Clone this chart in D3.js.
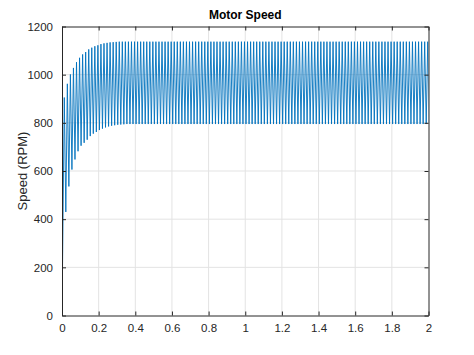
<!DOCTYPE html>
<html>
<head>
<meta charset="utf-8">
<script src="https://cdn.jsdelivr.net/npm/d3@7"></script>
<style>
  body { margin: 0; background: #fff; }
  svg { display: block; }
  text { font-family: Arial, "Liberation Sans", Helvetica, sans-serif; }
</style>
</head>
<body>
<svg id="chart" width="474" height="355"></svg>
<script>
// ---- data ----
const titleText = "Motor Speed";
const yLabelText = "Speed (RPM)";
const xTicks = [0, 0.2, 0.4, 0.6, 0.8, 1, 1.2, 1.4, 1.6, 1.8, 2];
const yTicks = [0, 200, 400, 600, 800, 1000, 1200];
const xDomain = [0, 2];
const yDomain = [0, 1200];
const startValue = 0;
// peak speed of each oscillation cycle (RPM)
const peakValues = [
  905, 962, 1001, 1028, 1052, 1070, 1084, 1094, 1105, 1112,
  1118, 1122, 1127, 1130, 1132, 1134, 1135, 1136, 1137, 1137,
  1137, 1137, 1137, 1137, 1137, 1137, 1137, 1137, 1137, 1137,
  1137, 1137, 1137, 1137, 1137, 1137, 1137, 1137, 1137, 1137,
  1137, 1137, 1137, 1137, 1137, 1137, 1137, 1137, 1137, 1137,
  1137, 1137, 1137, 1137, 1137, 1137, 1137, 1137, 1137, 1137,
  1137, 1137, 1137, 1137, 1137, 1137, 1137, 1137, 1137, 1137,
  1137, 1137, 1137, 1137, 1137, 1137, 1137, 1137, 1137, 1137,
  1137, 1137, 1137, 1137, 1137, 1137, 1137, 1137, 1137, 1137,
  1137, 1137, 1137, 1137, 1137, 1137, 1137, 1137, 1137, 1137,
  1137, 1137, 1137, 1137, 1137, 1137, 1137, 1137, 1137, 1137,
  1137, 1137, 1137, 1137, 1137, 1137, 1137, 1137, 1137, 1137
];
// trough speed of each oscillation cycle (RPM)
const troughValues = [
  430, 536, 606, 648, 682, 705, 717, 730, 745, 755,
  762, 770, 776, 781, 785, 788, 790, 792, 793, 794,
  795, 795, 795, 795, 795, 795, 795, 795, 795, 795,
  795, 795, 795, 795, 795, 795, 795, 795, 795, 795,
  795, 795, 795, 795, 795, 795, 795, 795, 795, 795,
  795, 795, 795, 795, 795, 795, 795, 795, 795, 795,
  795, 795, 795, 795, 795, 795, 795, 795, 795, 795,
  795, 795, 795, 795, 795, 795, 795, 795, 795, 795,
  795, 795, 795, 795, 795, 795, 795, 795, 795, 795,
  795, 795, 795, 795, 795, 795, 795, 795, 795, 795,
  795, 795, 795, 795, 795, 795, 795, 795, 795, 795,
  795, 795, 795, 795, 795, 795, 795, 795, 795, 795
];

(function () {
// ---- layout ----
const mLeft = 62, mRight = 428.5, mTop = 26.5, mBottom = 315.5;
const axisColor = "#262626";
const gridColor = "#e3e3e3";
const lineColor = "#0072BD";

const svg = d3.select("#chart");
const x = d3.scaleLinear().domain(xDomain).range([mLeft, mRight]);
const y = d3.scaleLinear().domain(yDomain).range([mBottom, mTop]);

// series points: sampled along the time axis
const period = (xDomain[1] - xDomain[0]) / peakValues.length;
const pts = [[0, startValue]];
peakValues.forEach((p, k) => {
  pts.push([(k + 0.75) * period, p]);
  pts.push([(k + 1.25) * period, troughValues[k]]);
});

// grid
const grid = svg.append("g");
grid.selectAll(".gx").data(xTicks.slice(1, -1)).enter().append("line")
  .attr("x1", d => x(d)).attr("x2", d => x(d))
  .attr("y1", mTop).attr("y2", mBottom)
  .attr("stroke", gridColor).attr("stroke-width", 1);
grid.selectAll(".gy").data(yTicks.slice(1, -1)).enter().append("line")
  .attr("x1", mLeft).attr("x2", mRight)
  .attr("y1", d => y(d)).attr("y2", d => y(d))
  .attr("stroke", gridColor).attr("stroke-width", 1);

// clip
svg.append("clipPath").attr("id", "plotclip").append("rect")
  .attr("x", mLeft).attr("y", mTop).attr("width", mRight - mLeft).attr("height", mBottom - mTop);

// line
const line = d3.line().x(d => x(d[0])).y(d => y(d[1]));
svg.append("path").datum(pts)
  .attr("clip-path", "url(#plotclip)")
  .attr("d", line)
  .attr("fill", "none")
  .attr("stroke", lineColor)
  .attr("stroke-width", 0.9)
  .attr("stroke-linejoin", "miter");

// axes (ticks inward)
const tickLen = 4;
const fmtX = d3.format("~g");
const fmtY = d3.format("d");
const xAxisB = d3.axisBottom(x).tickValues(xTicks).tickSizeInner(-tickLen).tickSizeOuter(0).tickPadding(8).tickFormat(fmtX);
const xAxisT = d3.axisTop(x).tickValues(xTicks).tickSizeInner(-tickLen).tickSizeOuter(0).tickFormat("");
const yAxisL = d3.axisLeft(y).tickValues(yTicks).tickSizeInner(-tickLen).tickSizeOuter(0).tickPadding(9).tickFormat(fmtY);
const yAxisR = d3.axisRight(y).tickValues(yTicks).tickSizeInner(-tickLen).tickSizeOuter(0).tickFormat("");

function styleAxis(g) {
  g.select(".domain").attr("stroke", axisColor).attr("stroke-width", 1);
  g.selectAll(".tick line").attr("stroke", axisColor).attr("stroke-width", 1);
  g.selectAll(".tick text").attr("fill", axisColor).attr("font-size", "11.5px")
    .attr("font-family", "Arial, 'Liberation Sans', sans-serif");
}
svg.append("g").attr("transform", `translate(0,${mBottom})`).call(xAxisB).call(styleAxis);
svg.append("g").attr("transform", `translate(0,${mTop})`).call(xAxisT).call(styleAxis);
svg.append("g").attr("transform", `translate(${mLeft},0)`).call(yAxisL).call(styleAxis);
svg.append("g").attr("transform", `translate(${mRight},0)`).call(yAxisR).call(styleAxis);

// title
svg.append("text")
  .attr("x", (mLeft + mRight) / 2).attr("y", 19)
  .attr("text-anchor", "middle")
  .attr("font-size", "12px").attr("font-weight", "bold")
  .attr("fill", "#000")
  .text(titleText);

// y label
svg.append("text")
  .attr("transform", `translate(27,${(mTop + mBottom) / 2}) rotate(-90)`)
  .attr("text-anchor", "middle")
  .attr("font-size", "13px")
  .attr("fill", axisColor)
  .text(yLabelText);
})();
</script>
</body>
</html>
